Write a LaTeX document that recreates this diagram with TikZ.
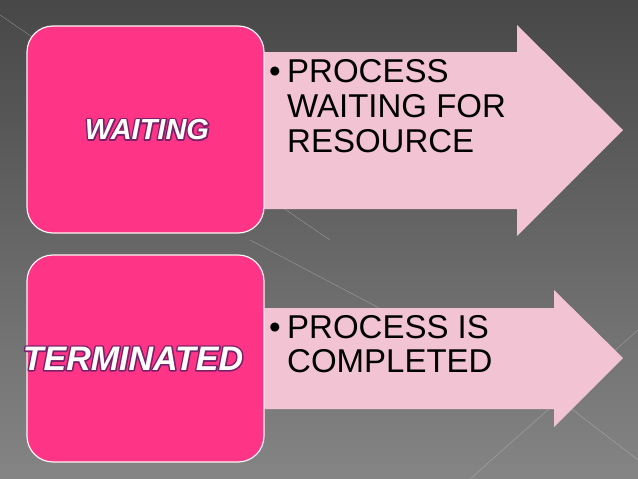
\documentclass[tikz,border=0pt]{standalone}
\usepackage{fontspec}
\setmainfont{Liberation Sans}
\newcommand{\glowtext}[1]{\makebox[0pt][l]{\special{pdf:literal direct 1 Tr 3 w 1 j 0.478 0.122 0.408 RG}#1\special{pdf:literal direct 0 Tr}}#1}
\begin{document}
\begin{tikzpicture}[x=1pt,y=-1pt,
  box/.style={draw=white!85!pink,line width=1.2pt,fill=boxpink,rounded corners=26pt},
  arr/.style={fill=arrpink},
  bodytext/.style={anchor=base west,inner sep=0pt,font=\fontsize{33}{34}\selectfont,text=black},
  lbl/.style={inner sep=0pt,text=white}]
\definecolor{boxpink}{HTML}{FE3487}
\definecolor{arrpink}{HTML}{F2C4D3}
\useasboundingbox (0,0) rectangle (638,479);
\shade[top color=black!72,bottom color=black!48] (0,0) rectangle (638,479);
\draw[white!60!gray,line width=0.4pt,opacity=0.5] (0,15) -- (330,240) (250,240) -- (440,340) (470,479) -- (638,330) (560,400) -- (638,460);
% arrows
\fill[arr] (264,52) -- (517,52) -- (517,25) -- (623,130) -- (517,236) -- (517,209) -- (264,209) -- cycle;
\fill[arr] (264,308) -- (554,308) -- (554,290) -- (623,358) -- (554,427) -- (554,409) -- (264,409) -- cycle;
% boxes
\draw[box] (27,26) rectangle (264,233);
\draw[box] (27,255) rectangle (264,462);
\node[lbl,font=\fontsize{29}{29}\bfseries\itshape\selectfont] (w) at (147,129.5) {\glowtext{WAITING}};
\node[lbl,font=\fontsize{34}{34}\bfseries\itshape\selectfont] (t) at (133,358.5) {\glowtext{TERMINATED}};
% texts
\node[bodytext] (bt1) at (269,82) {•};
\node[bodytext] (t1a) at (287,82) {PROCESS};
\node[bodytext] (t1b) at (287,117) {WAITING FOR};
\node[bodytext] (t1c) at (287,152) {RESOURCE};
\node[bodytext] (bt2) at (269,338) {•};
\node[bodytext] (t2a) at (287,338) {PROCESS IS};
\node[bodytext] (t2b) at (287,372) {COMPLETED};
\end{tikzpicture}
\end{document}
